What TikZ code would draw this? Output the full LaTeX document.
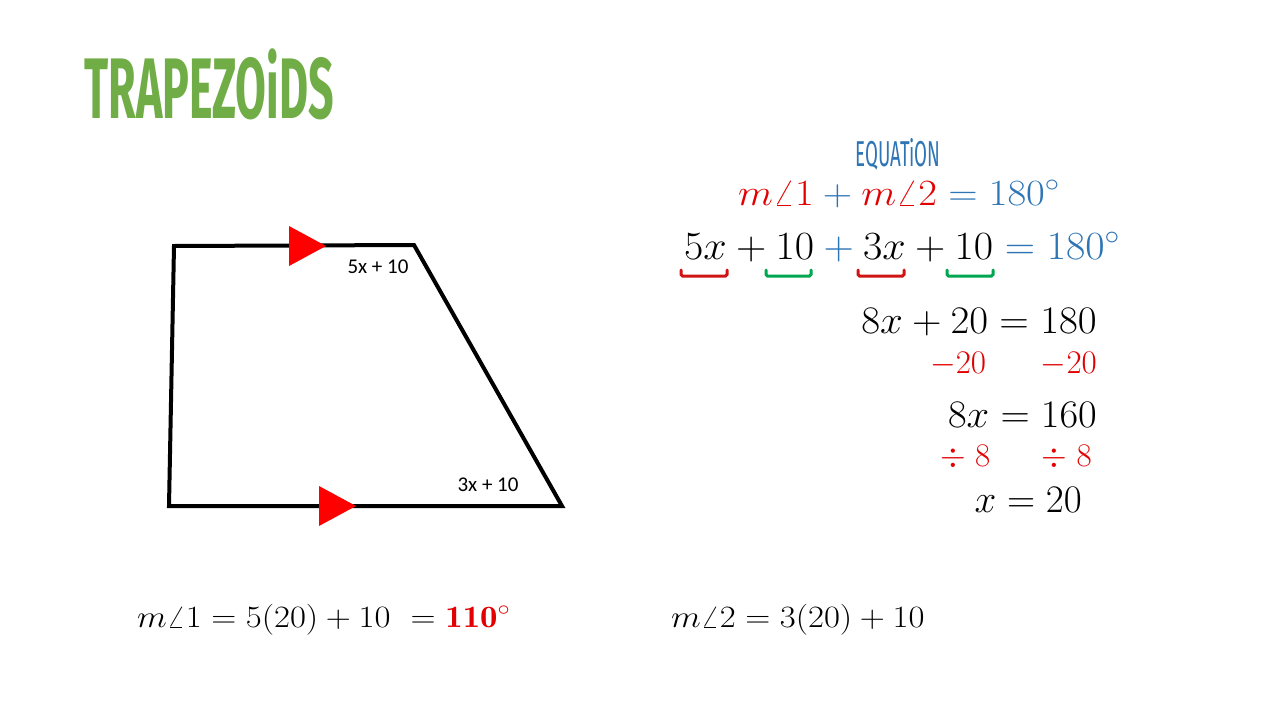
\RequirePackage{fix-cm}
\documentclass[tikz,border=0pt]{standalone}
\usepackage{fontspec}
\newfontfamily\calib{Carlito}
\newfontfamily\titlef{Fira Sans}
\definecolor{tgreen}{RGB}{112,173,71}
\definecolor{eqblue}{RGB}{46,117,182}
\definecolor{eqred}{RGB}{226,0,0}
\definecolor{ubred}{RGB}{208,20,20}
\definecolor{ubgreen}{RGB}{0,166,80}
\newcommand{\wide}[2]{\scalebox{#1}[1]{#2}}
\tikzset{
  edge/.style={line width=4pt, line join=miter},
  arrowtri/.style={fill=red},
  ubr/.style={line width=3pt, ubred, line cap=round, rounded corners=1.5pt},
  ubg/.style={line width=3pt, ubgreen, line cap=round, rounded corners=1.5pt},
  lab/.style={font=\calib\fontsize{21}{24}\selectfont, inner sep=0pt},
  eq/.style={font=\fontsize{39}{44}\selectfont, inner sep=0pt},
  eqsm/.style={font=\fontsize{33}{38}\selectfont, inner sep=0pt, text=eqred},
}
\begin{document}
\begin{tikzpicture}[x=1pt,y=-1pt]
\path[use as bounding box, fill=white] (0,0) rectangle (1280,720);
% title
\node[inner sep=0pt, text=tgreen] (title) at (209,84) {\scalebox{0.52}[1]{\titlef\bfseries\fontsize{86}{90}\selectfont TRAPEZOiDS}};
% trapezoid
\coordinate (A) at (174,246);
\coordinate (B) at (414,245);
\coordinate (C) at (562,506);
\coordinate (D) at (169,506);
\draw[edge] (A) -- (B) -- (C) -- (D) -- cycle;
\fill[arrowtri] (289,226) -- (326,246) -- (289,266) -- cycle;
\fill[arrowtri] (319,486) -- (356,506) -- (319,526) -- cycle;
\node[lab] (l1) at (378,267) {5x + 10};
\node[lab] (l2) at (488,485) {3x + 10};
% equation header
\node[inner sep=0pt, text=eqblue] (eqh) at (898,154) {\scalebox{0.52}[1]{\titlef\fontsize{36}{40}\selectfont EQUATiON}};
\node[inner sep=0pt, anchor=base west, font=\fontsize{37}{42}\selectfont] (r1) at (738,205) {\wide{1.1}{$\textcolor{eqred}{m\angle 1}\mathbin{\textcolor{eqblue}{+}}\textcolor{eqred}{m\angle 2}\mathrel{\textcolor{eqblue}{=}}\textcolor{eqblue}{180^\circ}$}};
\node[inner sep=0pt, anchor=base west, font=\fontsize{40}{46}\selectfont] (r2) at (684,259) {\wide{1.05}{$5x+10\mathbin{\textcolor{eqblue}{+}}3x+10\mathrel{\textcolor{eqblue}{=}}\textcolor{eqblue}{180^\circ}$}};
% underbraces
\draw[ubr] (681,270) -- (681,276) -- (727,276) -- (727,270);
\draw[ubg] (766,270) -- (766,276) -- (811,276) -- (811,270);
\draw[ubr] (858,270) -- (858,276) -- (904,276) -- (904,270);
\draw[ubg] (947,270) -- (947,276) -- (993,276) -- (993,270);
% solving steps
\node[eq, anchor=base east] (r3) at (1097,333) {\wide{1.05}{$8x+20=180$}};
\node[eqsm, anchor=base west] (s1) at (930,373) {$-20$};
\node[eqsm, anchor=base east] (s2) at (1097,373) {$-20$};
\node[eq, anchor=base east] (r4) at (1097,427) {\wide{1.04}{$8x=160$}};
\node[eqsm, anchor=base west] (d1) at (940,466) {$\div\;8$};
\node[eqsm, anchor=base east] (d2) at (1092,466) {$\div\;8$};
\node[eq, anchor=base east] (r5) at (1082,512) {$x=20$};
% bottom
\node[inner sep=0pt, anchor=base west, font=\fontsize{31}{36}\selectfont] (b1) at (137,627) {\wide{1.12}{$m\angle 1=5(20)+10\ =\textcolor{eqred}{\mathbf{110}^{\circ}}$}};
\node[inner sep=0pt, anchor=base west, font=\fontsize{31}{36}\selectfont] (b2) at (671,627) {\wide{1.12}{$m\angle 2=3(20)+10$}};
\end{tikzpicture}
\end{document}
